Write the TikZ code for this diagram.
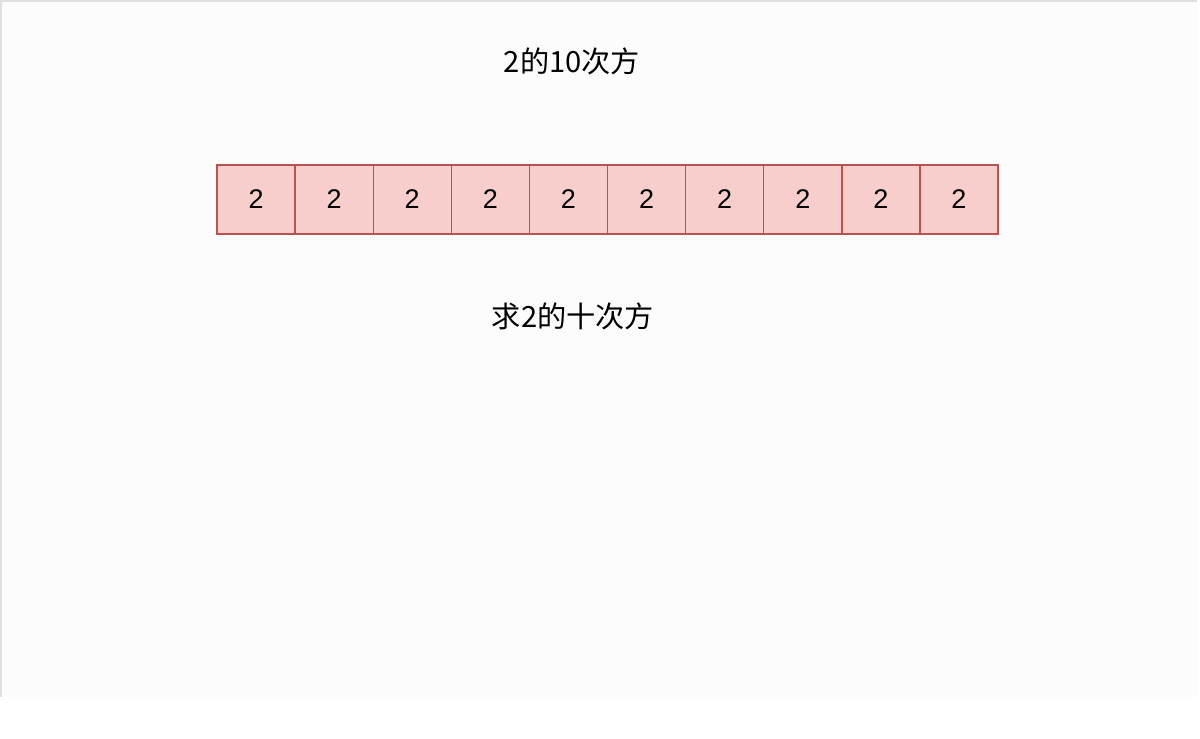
\documentclass[tikz,border=0pt]{standalone}
\usepackage{fontspec}
\setmainfont{Liberation Sans}
\newfontfamily\cjk{Noto Sans CJK SC}
\definecolor{cellfill}{HTML}{F8CECC}
\definecolor{cellline}{HTML}{B85450}
\definecolor{pagebg}{HTML}{FCFCFC}
\definecolor{pageedge}{HTML}{E0E0E0}

\begin{document}
\begin{tikzpicture}[x=0.5pt, y=-0.5pt,
  cell/.style={draw=cellline, fill=cellfill, line width=0.7pt, inner sep=0pt,
    minimum width=39.05pt, minimum height=34.5pt, font=\fontsize{13.5}{15}\selectfont},
  caption/.style={font=\cjk\fontsize{14.6}{17}\selectfont}]

\useasboundingbox (0, 0) rectangle (1200, 739);
\fill[pagebg] (0, 0) rectangle (1197, 697);
\draw[pageedge, line width=1pt] (0.5, 697) -- (0.5, 0.5) -- (1197, 0.5);

% title
\node[caption] (title) at (572, 61) {2的10次方};

% the ten cells
\node[cell] (c1) at (256.05, 199.5) {2};
\node[cell] (c2) at (334.15, 199.5) {2};
\node[cell] (c3) at (412.25, 199.5) {2};
\node[cell] (c4) at (490.35, 199.5) {2};
\node[cell] (c5) at (568.45, 199.5) {2};
\node[cell] (c6) at (646.55, 199.5) {2};
\node[cell] (c7) at (724.65, 199.5) {2};
\node[cell] (c8) at (802.75, 199.5) {2};
\node[cell] (c9) at (880.85, 199.5) {2};
\node[cell] (c10) at (958.95, 199.5) {2};

% question
\node[caption] (question) at (573, 316) {求2的十次方};

\end{tikzpicture}
\end{document}
